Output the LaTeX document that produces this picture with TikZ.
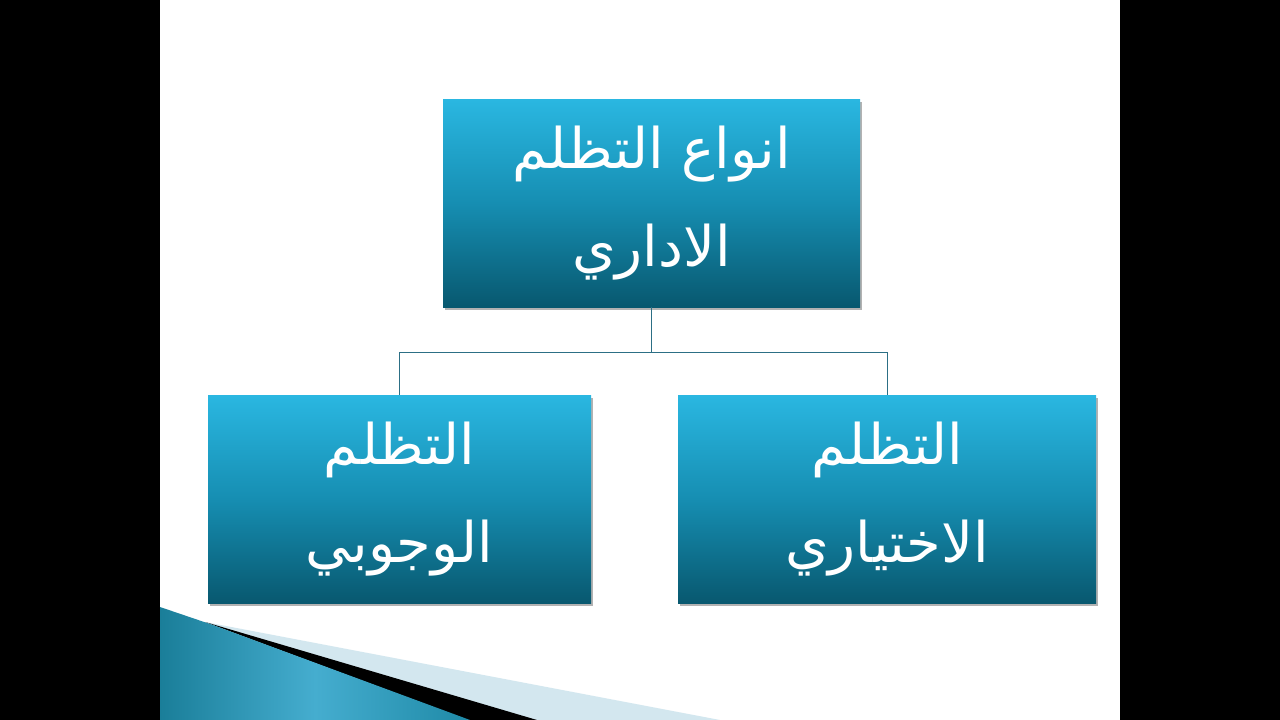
\documentclass[tikz,border=0pt]{standalone}
\usepackage{fontspec}
\newfontfamily\arabicfont[Script=Arabic]{DejaVu Sans}
\TeXXeTstate=1
\usetikzlibrary{shadows}
\definecolor{boxtop}{HTML}{2AB7E1}
\definecolor{boxmid}{HTML}{168EB2}
\definecolor{boxbot}{HTML}{08586F}
\definecolor{linec}{HTML}{2C6F85}
\definecolor{tealA}{HTML}{1A7E99}
\definecolor{tealB}{HTML}{45ADCF}
\definecolor{tealC}{HTML}{1F8AA7}
\definecolor{paleblue}{HTML}{D3E7EF}
\tikzset{
  orgbox/.style={rectangle, top color=boxtop, bottom color=boxbot, middle color=boxmid,
    draw=none, text=white, align=center, inner sep=0pt,
    drop shadow={shadow xshift=1.5pt, shadow yshift=-3pt, opacity=0.3, fill=black},
    font=\arabicfont\fontsize{56}{98}\selectfont},
  conn/.style={draw=linec, line width=1pt}
}
\begin{document}
\begin{tikzpicture}[x={(1pt,0pt)}, y={(0pt,-1pt)}]
\useasboundingbox (0,0) rectangle (1280,720);
\fill[white] (160,0) rectangle (1120,720);
\fill[black] (0,0) rectangle (160,720);
\fill[black] (1120,0) rectangle (1280,720);
% bottom-left decoration
\fill[paleblue] (205,622) -- (720,720) -- (530,720) -- cycle;
\fill[black] (205,622) -- (537,720) -- (468,720) -- cycle;
\shade[left color=tealA, right color=tealC, middle color=tealB]
  (160,607) -- (213,625) -- (470,720) -- (160,720) -- cycle;
% boxes
\node[orgbox, minimum width=417, minimum height=208] (top) at (651.5,203)
  {\beginR انواع التظلم\endR\\\beginR الاداري\endR};
\node[orgbox, minimum width=383, minimum height=208] (left) at (399.5,499)
  {\beginR التظلم\endR\\\beginR الوجوبي\endR};
\node[orgbox, minimum width=418, minimum height=208] (right) at (887,499)
  {\beginR التظلم\endR\\\beginR الاختياري\endR};
% connectors
\coordinate (mid) at (651.5,352);
\draw[conn] (top.south) -- (mid);
\draw[conn] (mid) -| (left.north);
\draw[conn] (mid) -| (right.north);
\end{tikzpicture}
\end{document}
